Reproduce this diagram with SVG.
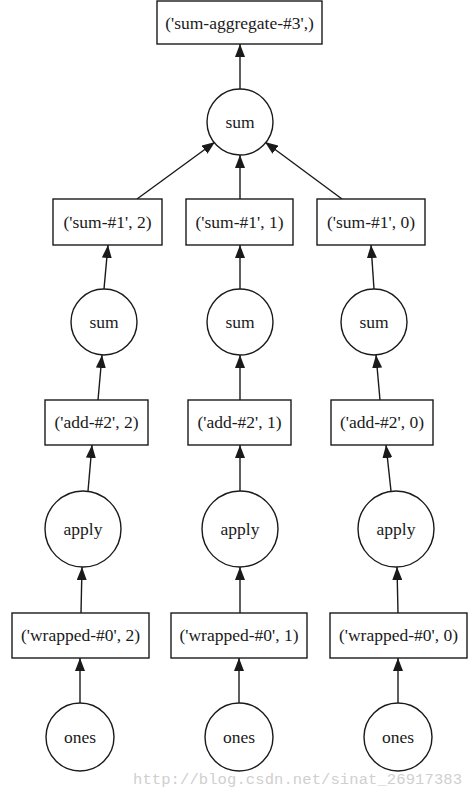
<svg xmlns="http://www.w3.org/2000/svg" width="474" height="795" viewBox="0 0 474 795">
<style>
.n rect, .n circle { fill: #fff; stroke: #1a1a1a; stroke-width: 1.4; }
.n text { font-family: "Liberation Serif", "Times New Roman", serif; font-size: 17.5px; text-anchor: middle; fill: #1a1a1a; }
.e line { stroke: #1a1a1a; stroke-width: 1.4; marker-end: url(#arr); }
.wm { font-family: "Liberation Mono", "Courier New", monospace; font-size: 15.5px; fill: #cfcfcf; }
</style>
<defs>
<marker id="arr" viewBox="0 0 13 10" refX="13" refY="5" markerWidth="13" markerHeight="10" markerUnits="userSpaceOnUse" orient="auto">
<path d="M0,0 L13,5 L0,10 Z" fill="#1a1a1a"/>
</marker>
</defs>
<rect width="474" height="795" fill="#fff"/>
<g class="e" id="edges">
<line x1="240" y1="89" x2="240" y2="44"/>
<line x1="137" y1="199" x2="215" y2="142"/>
<line x1="240" y1="199" x2="240" y2="155"/>
<line x1="342" y1="199" x2="265" y2="142"/>
<line x1="104" y1="289" x2="108" y2="245"/>
<line x1="240" y1="289" x2="240" y2="245"/>
<line x1="374" y1="289" x2="371" y2="245"/>
<line x1="98" y1="400" x2="102" y2="355"/>
<line x1="240" y1="400" x2="240" y2="355"/>
<line x1="380" y1="400" x2="376" y2="355"/>
<line x1="88" y1="491" x2="92" y2="445"/>
<line x1="240" y1="491" x2="240" y2="445"/>
<line x1="391" y1="491" x2="386" y2="445"/>
<line x1="81" y1="613" x2="82" y2="567"/>
<line x1="240" y1="613" x2="240" y2="567"/>
<line x1="398" y1="613" x2="397" y2="567"/>
<line x1="80" y1="703" x2="80" y2="658"/>
<line x1="239" y1="703" x2="239" y2="658"/>
<line x1="398" y1="703" x2="398" y2="658"/>
</g>
<g class="n" id="sum-aggregate-3"><rect x="157" y="1" width="165" height="43"/><text x="239.5" y="29">('sum-aggregate-#3',)</text></g>
<g class="n" id="sum-top"><circle cx="240" cy="122" r="33"/><text x="240" y="128">sum</text></g>
<g class="n" id="sum-1-2"><rect x="53" y="199" width="109" height="46"/><text x="107.5" y="228">('sum-#1', 2)</text></g>
<g class="n" id="sum-1-1"><rect x="186" y="199" width="107" height="46"/><text x="239.5" y="228">('sum-#1', 1)</text></g>
<g class="n" id="sum-1-0"><rect x="317" y="199" width="108" height="46"/><text x="371" y="228">('sum-#1', 0)</text></g>
<g class="n" id="sum-2"><circle cx="104" cy="322" r="33"/><text x="104" y="328">sum</text></g>
<g class="n" id="sum-1"><circle cx="240" cy="322" r="33"/><text x="240" y="328">sum</text></g>
<g class="n" id="sum-0"><circle cx="374" cy="322" r="33"/><text x="374" y="328">sum</text></g>
<g class="n" id="add-2-2"><rect x="45" y="400" width="103" height="45"/><text x="96.5" y="428">('add-#2', 2)</text></g>
<g class="n" id="add-2-1"><rect x="188" y="400" width="103" height="45"/><text x="239.5" y="428">('add-#2', 1)</text></g>
<g class="n" id="add-2-0"><rect x="331" y="400" width="102" height="45"/><text x="382" y="428">('add-#2', 0)</text></g>
<g class="n" id="apply-2"><circle cx="83" cy="529" r="38"/><text x="83" y="535">apply</text></g>
<g class="n" id="apply-1"><circle cx="240" cy="529" r="38"/><text x="240" y="535">apply</text></g>
<g class="n" id="apply-0"><circle cx="396" cy="529" r="38"/><text x="396" y="535">apply</text></g>
<g class="n" id="wrapped-0-2"><rect x="12" y="613" width="137" height="45"/><text x="80.5" y="641">('wrapped-#0', 2)</text></g>
<g class="n" id="wrapped-0-1"><rect x="171" y="613" width="136" height="45"/><text x="239" y="641">('wrapped-#0', 1)</text></g>
<g class="n" id="wrapped-0-0"><rect x="330" y="613" width="137" height="45"/><text x="398.5" y="641">('wrapped-#0', 0)</text></g>
<g class="n" id="ones-2"><circle cx="80" cy="737" r="34"/><text x="80" y="743">ones</text></g>
<g class="n" id="ones-1"><circle cx="239" cy="737" r="34"/><text x="239" y="743">ones</text></g>
<g class="n" id="ones-0"><circle cx="398" cy="737" r="34"/><text x="398" y="743">ones</text></g>
<text class="wm" x="133" y="784" textLength="329">http://blog.csdn.net/sinat_26917383</text>
</svg>
